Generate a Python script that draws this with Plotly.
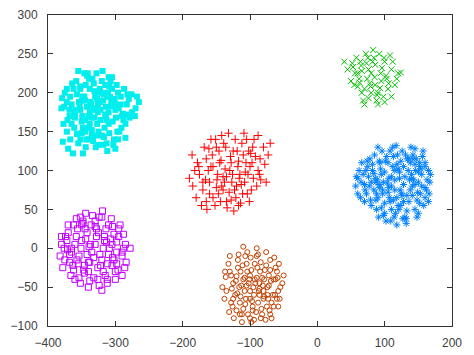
import plotly.graph_objects as go

# ---- data ----
cyan_x = [-330,-345,-315,-300,-360,-325,-338,-310,-352,-290,
          -372,-320,-305,-342,-365,-297,-335,-318,-350,-280,
          -379,-375,-328,-312,-348,-287,-270,-268,-358,-340,
          -322,-302,-333,-355,-378,-295,-310,-345,-325,-365,
          -363,-285,-300,-318,-338,-350,-327,-307,-370,-275,
          -342,-314,-352,-292,-332,-362,-377,-317,-346,-304,
          -355,-283,-298,-325,-340,-368,-311,-294,-336,-348,
          -348,-380,-306,-330,-289,-357,-345,-334,-314,-300,
          -265,-372,-320,-350,-285,-310,-340,-326,-360,-296,
          -316,-344,-303,-328,-367,-279,-352,-336,-309,-323,
          -338,-322,-308,-353,-368,-292,-276,-343,-331,-315,
          -357,-371,-284,-299,-313,-327,-341,-361,-305,-319,
          -349,-335,-320,-306,-291,-364,-376,-344,-329,-312,
          -296,-282,-271,-352,-337,-323,-309,-367,-359,-333,
          -301,-317,-346,-326,-288,-339,-354,-313,-331,-372]
cyan_y = [180, 190, 172, 185, 175, 200, 160, 160, 205, 170,
          188, 215, 205, 222, 160, 150, 145, 190, 148, 192,
          193, 200, 225, 195, 195, 205, 180, 195, 215, 170,
          165, 140, 138, 135, 137, 180, 175, 150, 150, 185,
          122, 160, 128, 133, 205, 163, 192, 215, 128, 175,
          182, 182, 178, 195, 212, 205, 160, 143, 195, 163,
          228, 185, 210, 133, 155, 170, 200, 150, 168, 155,
          122, 180, 190, 195, 173, 147, 165, 218, 170, 178,
          188, 150, 200, 190, 142, 220, 140, 175, 168, 200,
          155, 210, 133, 145, 195, 168, 140, 185, 208, 188,
          175, 178, 195, 185, 178, 185, 198, 140, 202, 210,
          198, 165, 172, 168, 165, 160, 225, 155, 220, 228,
          170, 152, 145, 183, 155, 212, 182, 130, 130, 125,
          140, 198, 170, 208, 188, 205, 148, 140, 178, 178,
          192, 198, 225, 185, 165, 218, 188, 135, 168, 205]

red_x = [-130,-145,-115,-160,-100,-125,-140,-110,-150,-120,
         -175,-185,-165,-155,-135,-95,-85,-80,-105,-70,
         -190,-170,-162,-148,-138,-128,-118,-108,-98,-88,
         -178,-168,-158,-142,-132,-122,-112,-102,-92,-78,
         -180,-172,-164,-152,-144,-134,-124,-114,-104,-90,
         -156,-146,-136,-126,-116,-106,-96,-86,-76,-166,
         -186,-176,-160,-150,-140,-131,-121,-111,-101,-94,
         -170,-155,-143,-137,-127,-117,-107,-97,-84,-73,
         -161,-151,-139,-129,-119,-109,-99,-135,-147,-123,
         -182,-165,-142,-113,-88,-158,-128,-103,-117,-149]
red_y = [100, 110, 95, 85, 105, 125, 75, 120, 130, 80,
         95, 80, 115, 65, 60, 90, 115, 130, 140, 135,
         90, 75, 100, 95, 85, 110, 105, 85, 75, 100,
         110, 130, 140, 145, 148, 140, 135, 125, 118, 108,
         65, 55, 50, 55, 60, 52, 48, 58, 70, 80,
         120, 125, 130, 95, 90, 110, 130, 95, 85, 88,
         120, 105, 70, 78, 92, 72, 65, 70, 60, 140,
         85, 105, 113, 102, 85, 112, 98, 110, 88, 120,
         128, 140, 135, 118, 125, 148, 122, 92, 70, 75,
         100, 60, 80, 82, 145, 105, 62, 95, 55, 88]

green_x = [80, 65, 95, 55, 110, 75, 90, 60, 100, 85,
           45, 50, 70, 105, 120, 115, 68, 88, 98, 58,
           72, 82, 92, 102, 62, 52, 112, 78, 96, 66,
           86, 76, 106, 56, 40, 118, 84, 94, 64, 74,
           90, 100, 70, 80, 110, 60, 86, 108, 66, 76,
           93, 83, 53, 73, 103, 124, 63, 89, 99, 79]
green_y = [225, 235, 215, 210, 230, 245, 200, 225, 240, 220,
           230, 215, 205, 205, 225, 210, 190, 190, 195, 245,
           250, 240, 250, 222, 218, 238, 240, 212, 232, 200,
           210, 230, 212, 225, 240, 218, 245, 225, 240, 218,
           185, 188, 185, 200, 195, 208, 236, 248, 228, 193,
           206, 255, 233, 238, 218, 226, 213, 197, 245, 208]

blue_x = [110, 95, 125, 80, 140, 105, 120, 90, 135, 115,
          65, 60, 75, 155, 165, 160, 100, 130, 145, 85,
          70, 88, 102, 118, 132, 148, 158, 78, 96, 112,
          126, 142, 152, 168, 68, 84, 98, 108, 122, 138,
          150, 57, 73, 93, 113, 128, 146, 162, 82, 105,
          118, 136, 153, 66, 86, 100, 116, 133, 148, 92,
          110, 128, 145, 163, 76, 94, 112, 124, 140, 156,
          62, 80, 98, 114, 132, 150, 166, 87, 103, 121,
          139, 157, 71, 89, 107, 123, 141, 160, 100, 118,
          135, 152, 90, 108, 128, 145, 64, 82, 97, 115,
          130, 147, 167, 77, 95, 113, 131, 149, 60, 84,
          104, 122, 138, 155, 72, 92, 110, 126, 143, 160,
          101, 119, 137, 154, 70, 88, 106, 124, 142, 160,
          115, 133, 79, 97, 109, 127, 145, 91, 150, 165,
          58, 74, 92, 120, 134, 152, 87, 106, 141, 117]
blue_y = [80, 95, 70, 85, 90, 110, 55, 65, 115, 100,
          85, 70, 105, 80, 100, 65, 45, 40, 50, 120,
          60, 50, 35, 30, 32, 40, 55, 115, 125, 130,
          125, 120, 110, 95, 95, 75, 85, 60, 90, 75,
          85, 80, 70, 110, 118, 105, 100, 75, 100, 72,
          65, 60, 70, 110, 90, 58, 45, 48, 62, 78,
          92, 82, 108, 88, 92, 102, 105, 112, 95, 118,
          100, 55, 42, 40, 38, 45, 70, 62, 118, 50,
          130, 125, 75, 88, 65, 75, 68, 105, 98, 108,
          100, 58, 130, 125, 60, 82, 65, 108, 70, 88,
          92, 115, 85, 80, 52, 62, 120, 72, 90, 96,
          84, 98, 110, 95, 100, 82, 50, 68, 88, 110,
          112, 120, 88, 102, 82, 70, 78, 55, 115, 78,
          75, 68, 62, 75, 35, 38, 128, 40, 98, 60,
          92, 112, 112, 102, 115, 105, 85, 90, 80, 132]

purple_x = [-335,-350,-320,-365,-305,-340,-325,-355,-315,-345,
            -375,-380,-370,-290,-285,-295,-330,-310,-360,-300,
            -378,-366,-352,-338,-324,-312,-298,-286,-372,-358,
            -344,-330,-316,-302,-288,-362,-348,-334,-320,-306,
            -368,-354,-340,-326,-312,-298,-284,-376,-362,-346,
            -332,-318,-304,-290,-370,-356,-342,-328,-314,-300,
            -382,-365,-351,-337,-323,-309,-295,-278,-368,-354,
            -340,-326,-312,-298,-358,-344,-330,-316,-302,-288,
            -374,-360,-346,-332,-318,-304,-290,-348,-322,-338,
            -328,-342,-357,-310,-296,-371,-336,-319,-352,-305,
            -363,-347,-320,-313,-293,-380,-339,-324,-350,-307]
purple_y = [-5, 10, -15, 0, 5, -30, 20, -20, -35, 25,
            -15, 5, 20, -10, 5, 15, 35, 30, -40, -30,
            -25, -35, -45, -42, -48, -40, -20, -25, 10, 15,
            12, 5, 10, 18, 0, 30, 35, 42, 40, 38,
            -8, -10, -18, -25, -20, -5, -18, 0, -28, -32,
            -38, -30, -12, -35, 30, 25, 20, 15, 25, -40,
            -10, -5, 0, 5, -8, 0, 25, 0, -18, -38,
            -50, -40, -45, 8, 38, 45, 28, 15, -15, 18,
            15, 5, -22, -12, 0, 28, -5, 32, -22, -18,
            25, -8, -15, -8, -28, -2, 30, 48, 40, -22,
            -22, -28, -54, 8, 30, 15, 2, 40, 30, 12]

orange_x = [-95, -110, -80, -125, -65, -100, -85, -115, -75, -105,
            -135, -141, -130, -55, -50, -60, -90, -70, -120, -100,
            -138, -126, -112, -98, -84, -70, -58, -132, -118, -104,
            -90, -76, -62, -128, -114, -100, -86, -72, -58, -136,
            -122, -108, -94, -80, -66, -52, -130, -116, -102, -88,
            -74, -60, -124, -110, -96, -82, -68, -118, -104, -90,
            -76, -62, -128, -114, -100, -86, -72, -107, -93, -79,
            -65, -121, -107, -93, -79, -137, -119, -105, -91, -77,
            -63, -112, -98, -84, -70, -56, -127, -96, -82, -68,
            -110, -88, -74, -115, -92, -78, -64, -108, -94, -81,
            -117, -131, -99, -86, -71, -57, -111, -125, -103, -89,
            -97, -83, -69, -120, -106, -87, -73, -59, -113, -101]
orange_y = [-50, -40, -55, -45, -40, -65, -30, -70, -75, -20,
            -55, -50, -30, -50, -35, -65, -10, -15, -80, -90,
            -65, -75, -85, -95, -90, -85, -75, -20, -15, -5,
            0, -5, -25, -35, -30, -35, -45, -35, -55, -37,
            -60, -55, -60, -65, -60, -45, -10, -50, -45, -70,
            -50, -30, -90, -78, -80, -85, -70, -25, -30, -38,
            -22, -40, -70, -62, -55, -52, -48, -10, -20, -40,
            -75, -42, -72, -40, -62, -30, -58, -48, -82, -92,
            -60, -95, -28, -18, -28, -65, -52, -75, -38, -90,
            2, -8, -60, -85, -45, -28, -12, -38, -92, -48,
            -8, -82, -12, -60, -80, -20, -22, -65, -85, -25,
            -68, -78, -42, -36, -65, -55, -65, -38, -48, -40]

x_ticks = [-400, -300, -200, -100, 0, 100, 200]
y_ticks = [-100, -50, 0, 50, 100, 150, 200, 250, 300]

series = [
    (red_x, red_y, "cross-thin-open", "#ff0000", 6),
    (green_x, green_y, "x-thin-open", "#00c000", 6),
    (blue_x, blue_y, "asterisk-open", "#0080ff", 6),
    (purple_x, purple_y, "square-open", "#c000ff", 6),
    (cyan_x, cyan_y, "square", "#00eeee", 6),
    (orange_x, orange_y, "circle-open", "#c04000", 5),
]

fig = go.Figure()
for xs, ys, sym, col, sz in series:
    fig.add_trace(go.Scatter(
        x=xs, y=ys, mode="markers",
        marker=dict(symbol=sym, size=sz, color=col,
                    line=dict(color=col, width=1 if sym != "square" else 0)),
        showlegend=False, hoverinfo="skip"))

axis_common = dict(showgrid=False, zeroline=False, showline=True, linecolor="#333",
                   linewidth=1, mirror="ticks", ticks="inside", ticklen=5,
                   tickcolor="#333", automargin=False,
                   tickfont=dict(family="Liberation Sans", size=12, color="#404040"))
fig.update_xaxes(range=[-400, 200], tickvals=x_ticks, ticklabelstandoff=6, **axis_common)
fig.update_yaxes(range=[-100, 300], tickvals=y_ticks, ticklabelstandoff=7, **axis_common)
fig.update_layout(width=474, height=355, margin=dict(l=48, r=22, t=15, b=29),
                  plot_bgcolor="white", paper_bgcolor="white")
fig.write_html("out.html")
